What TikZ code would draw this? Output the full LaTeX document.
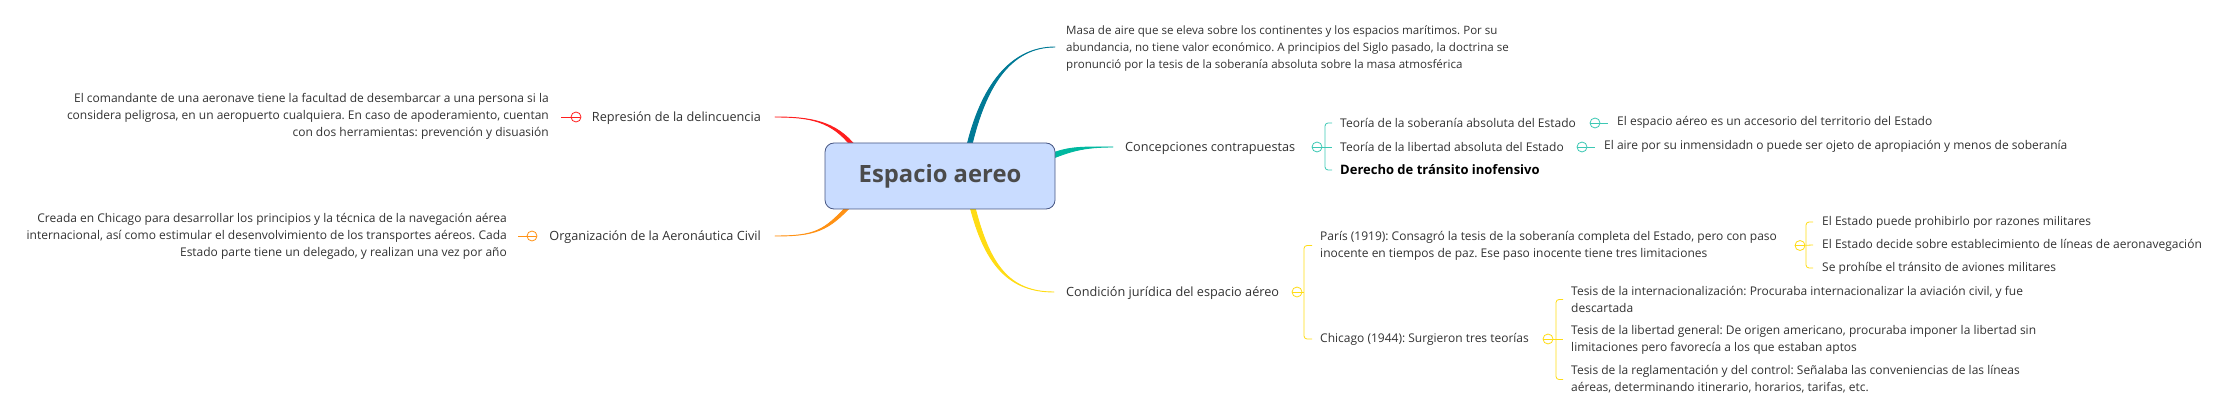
\documentclass[tikz,border=0pt]{standalone}
\usepackage{fontspec}
\setmainfont{Open Sans}
\frenchspacing
\usetikzlibrary{calc,backgrounds}
\definecolor{colorRep}{RGB}{255, 30, 30}
\definecolor{colorOrg}{RGB}{255, 145, 20}
\definecolor{colorMasa}{RGB}{0, 122, 150}
\definecolor{colorCon}{RGB}{0, 184, 160}
\definecolor{colorLink}{RGB}{60, 200, 180}
\definecolor{colorCond}{RGB}{255, 220, 20}
\definecolor{colorText}{RGB}{50, 50, 50}
\tikzset{
	txt/.style={inner sep=0pt, text=colorText, font=\fontsize{12}{17}\selectfont},
	topic/.style={inner sep=0pt, text=colorText, font=\fontsize{12.7}{17}\selectfont},
	marker/.style={circle, draw=#1, fill=white, line width=0.8pt, inner sep=0pt, minimum size=10pt,
		path picture={\draw[#1, line width=0.8pt] (path picture bounding box.west) -- (path picture bounding box.east);}},
	link/.style={line width=0.8pt},
	bracket/.style={line width=0.8pt, rounded corners=3pt}
}
% tapered branch: colour, tip, base, two control offsets, half width
\newcommand{\branch}[6]{\filldraw[#1, line width=0.9pt, line join=round] (#2) .. controls +(#4) and +(#5) .. ($(#3)+(#6)$) -- ($(#3)-(#6)$) .. controls +(#5) and +(#4) .. (#2) -- cycle;}
\begin{document}
\begin{tikzpicture}[x=1pt, y=-1pt]
	\useasboundingbox (0,0) rectangle (2230,414);
	\node[draw={rgb,255:red,70;green,85;blue,130}, fill={rgb,255:red,201;green,220;blue,255}, rounded corners=9pt, line width=0.8pt, minimum width=230pt, minimum height=66pt, text={rgb,255:red,75;green,75;blue,75}, font=\fontsize{23.8}{28}\selectfont\bfseries] (root) at (940,176) {Espacio aereo};

	% left side
	\node[topic, anchor=east] (rep) at (761,118) {Represión de la delincuencia};
	\node[marker=colorRep] (mRep) at (576,117) {};
	\node[txt, anchor=east, align=right] (repNote) at (549,116) {El comandante de una aeronave tiene la facultad de desembarcar a una persona si la\\considera peligrosa, en un aeropuerto cualquiera. En caso de apoderamiento, cuentan\\con dos herramientas: prevención y disuasión};
	\node[topic, anchor=east] (org) at (761,237) {Organización de la Aeronáutica Civil};
	\node[marker=colorOrg] (mOrg) at (532,236) {};
	\node[txt, anchor=east, align=right] (orgNote) at (507,236) {Creada en Chicago para desarrollar los principios y la técnica de la navegación aérea\\internacional, así como estimular el desenvolvimiento de los transportes aéreos. Cada\\Estado parte tiene un delegado, y realizan una vez por año};

	% right side
	\node[txt, anchor=west, align=left, font=\fontsize{11.55}{17}\selectfont] (masa) at (1066,48) {Masa de aire que se eleva sobre los continentes y los espacios marítimos. Por su\\abundancia, no tiene valor económico. A principios del Siglo pasado, la doctrina se\\pronunció por la tesis de la soberanía absoluta sobre la masa atmosférica};
	\node[topic, anchor=west] (con) at (1125,148) {Concepciones contrapuestas};
	\node[marker=colorLink] (mCon) at (1317,147) {};
	\node[txt, anchor=west] (teoA) at (1340,123) {Teoría de la soberanía absoluta del Estado};
	\node[txt, anchor=west] (teoB) at (1340,147) {Teoría de la libertad absoluta del Estado};
	\node[txt, anchor=west, text=black, font=\fontsize{13}{17}\selectfont\bfseries] (der) at (1340,170) {Derecho de tránsito inofensivo};
	\node[marker=colorLink] (mTeoA) at (1595,123) {};
	\node[txt, anchor=west] (accA) at (1617,122) {El espacio aéreo es un accesorio del territorio del Estado};
	\node[marker=colorLink] (mTeoB) at (1582,147) {};
	\node[txt, anchor=west] (accB) at (1604,146) {El aire por su inmensidadn o puede ser ojeto de apropiación y menos de soberanía};

	\node[topic, anchor=west] (cond) at (1066,293) {Condición jurídica del espacio aéreo};
	\node[marker=colorCond] (mCond) at (1297,292) {};
	\node[txt, anchor=west, align=left] (paris) at (1320,245.5) {París (1919): Consagró la tesis de la soberanía completa del Estado, pero con paso\\inocente en tiempos de paz. Ese paso inocente tiene tres limitaciones};
	\node[txt, anchor=west] (chi) at (1320,339) {Chicago (1944): Surgieron tres teorías};
	\node[marker=colorCond] (mParis) at (1800,245.5) {};
	\node[txt, anchor=west] (limA) at (1822,222) {El Estado puede prohibirlo por razones militares};
	\node[txt, anchor=west] (limB) at (1822,245) {El Estado decide sobre establecimiento de líneas de aeronavegación};
	\node[txt, anchor=west] (limC) at (1822,268) {Se prohíbe el tránsito de aviones militares};
	\node[marker=colorCond] (mChi) at (1548,339) {};
	\node[txt, anchor=west, align=left] (tesA) at (1571,299.5) {Tesis de la internacionalización: Procuraba internacionalizar la aviación civil, y fue\\descartada};
	\node[txt, anchor=west, align=left] (tesB) at (1571,339.5) {Tesis de la libertad general: De origen americano, procuraba imponer la libertad sin\\limitaciones pero favorecía a los que estaban aptos};
	\node[txt, anchor=west, align=left] (tesC) at (1571,379.5) {Tesis de la reglamentación y del control: Señalaba las conveniencias de las líneas\\aéreas, determinando itinerario, horarios, tarifas, etc.};

	% main branches, under the root
	\begin{scope}[on background layer]
		\coordinate (tRep) at ([xshift=14pt, yshift=1pt]rep.east);
		\coordinate (tOrg) at ([xshift=14pt, yshift=1pt]org.east);
		\coordinate (tMasa) at ([xshift=-11pt, yshift=1pt]masa.west);
		\coordinate (tCon) at ([xshift=-12pt, yshift=1pt]con.west);
		\coordinate (tCond) at ([xshift=-12pt, yshift=1pt]cond.west);
		\coordinate (bRep) at (854,147);
		\coordinate (bOrg) at (850,205);
		\coordinate (bMasa) at (969,147);
		\coordinate (bCon) at (1052,156);
		\coordinate (bCond) at (972,205);
		\branch{colorRep}{tRep}{bRep}{35,0}{-20,-26}{2.2,0}
		\branch{colorOrg}{tOrg}{bOrg}{40,0}{-24,26}{2.2,0}
		\branch{colorMasa}{tMasa}{bMasa}{-45,0}{14,-60}{2.4,0}
		\branch{colorCon}{tCon}{bCon}{-30,0}{18,-7}{0,2.6}
		\branch{colorCond}{tCond}{bCond}{-45,0}{15,60}{2.4,0}
		\draw[link, colorRep] (mRep) -- ([xshift=-15pt]mRep.center);
		\draw[link, colorOrg] (mOrg) -- ([xshift=-14pt]mOrg.center);
		\draw[link, colorLink] (mTeoA) -- ([xshift=13pt]mTeoA.center);
		\draw[link, colorLink] (mTeoB) -- ([xshift=13pt]mTeoB.center);
		\draw[link, colorLink] (mCon) -- ([xshift=-8pt]teoB.west);
		\draw[link, colorCond] (mCond) -- ([xshift=7pt]mCond.center);
		\draw[link, colorCond] (mParis) -- ([xshift=-9pt]limB.west);
		\draw[link, colorCond] (mChi) -- ([xshift=15pt]mChi.center);
	\end{scope}

	% brackets
	\draw[bracket, colorLink] ([xshift=-8pt]teoA.west) -| ([xshift=8pt]mCon.center) |- ([xshift=-8pt]der.west);
	\draw[bracket, colorCond] ([xshift=-8pt]paris.west) -| ([xshift=7pt]mCond.center) |- ([xshift=-8pt]chi.west);
	\draw[bracket, colorCond] ([xshift=-9pt]limA.west) -| ([xshift=6pt]mParis.center) |- ([xshift=-9pt]limC.west);
	\draw[bracket, colorCond] ([xshift=-8pt]tesA.west) -| ([xshift=8pt]mChi.center) |- ([xshift=-8pt]tesC.west);
\end{tikzpicture}
\end{document}
